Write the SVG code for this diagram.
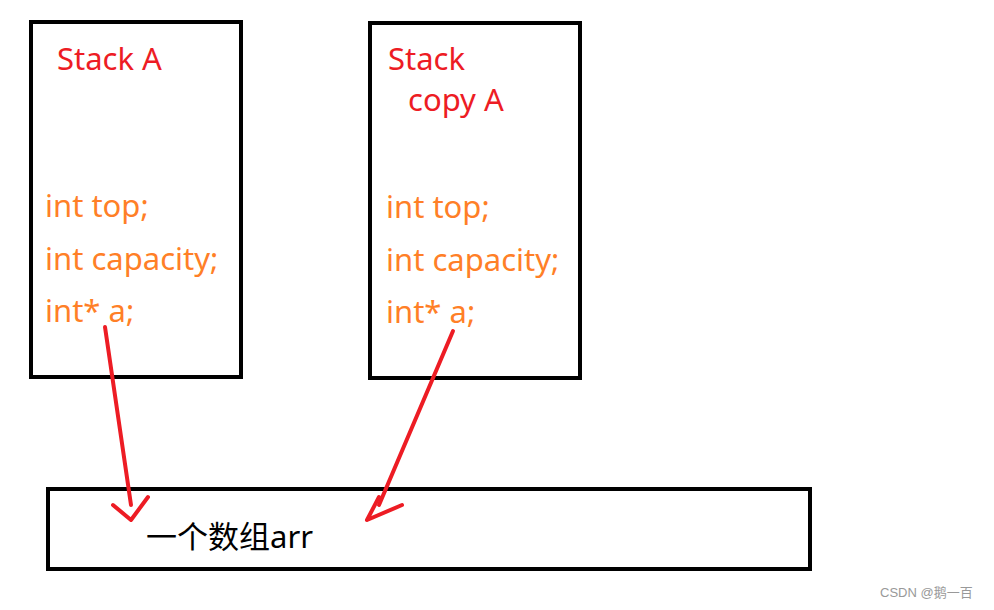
<svg xmlns="http://www.w3.org/2000/svg" width="994" height="610" viewBox="0 0 994 610">
<style>
.box{fill:none;stroke:#000;stroke-width:4}
.t{font-family:"Noto Sans","Noto Sans CJK SC",sans-serif;font-size:31px}
.red{fill:#ed1c24}
.org{fill:#ff7f27}
.arr{fill:none;stroke:#ed1c24;stroke-width:4;stroke-linecap:round;stroke-linejoin:round}
</style>
<rect width="994" height="610" fill="#fff"/>
<g id="stackA">
<rect class="box" x="31" y="22" width="210" height="355"/>
<text class="t red" x="57" y="70">Stack A</text>
<text class="t org" x="45" y="217">int top;</text>
<text class="t org" x="45" y="270">int capacity;</text>
<text class="t org" x="45" y="322">int* a;</text>
</g>
<g id="stackCopy">
<rect class="box" x="370" y="23" width="210" height="355"/>
<text class="t red" x="388" y="70">Stack</text>
<text class="t red" x="408" y="111">copy A</text>
<text class="t org" x="386" y="218">int top;</text>
<text class="t org" x="386" y="271">int capacity;</text>
<text class="t org" x="386" y="323">int* a;</text>
</g>
<g id="arr">
<rect class="box" x="48" y="489" width="762" height="80"/>
<text class="t" x="146" y="548" fill="#000">一个数组arr</text>
</g>
<g id="connectors">
<path class="arr" d="M105 327 L131 505"/>
<path class="arr" d="M113 505 L131 520 L148 497"/>
<path class="arr" d="M453 331 L379 505"/>
<path class="arr" d="M379 497 L367 520 L402 505"/>
</g>
<text x="880" y="597" font-family="Liberation Sans,Noto Sans CJK SC,sans-serif" font-size="13" fill="#999">CSDN @鹅一百</text>
</svg>
